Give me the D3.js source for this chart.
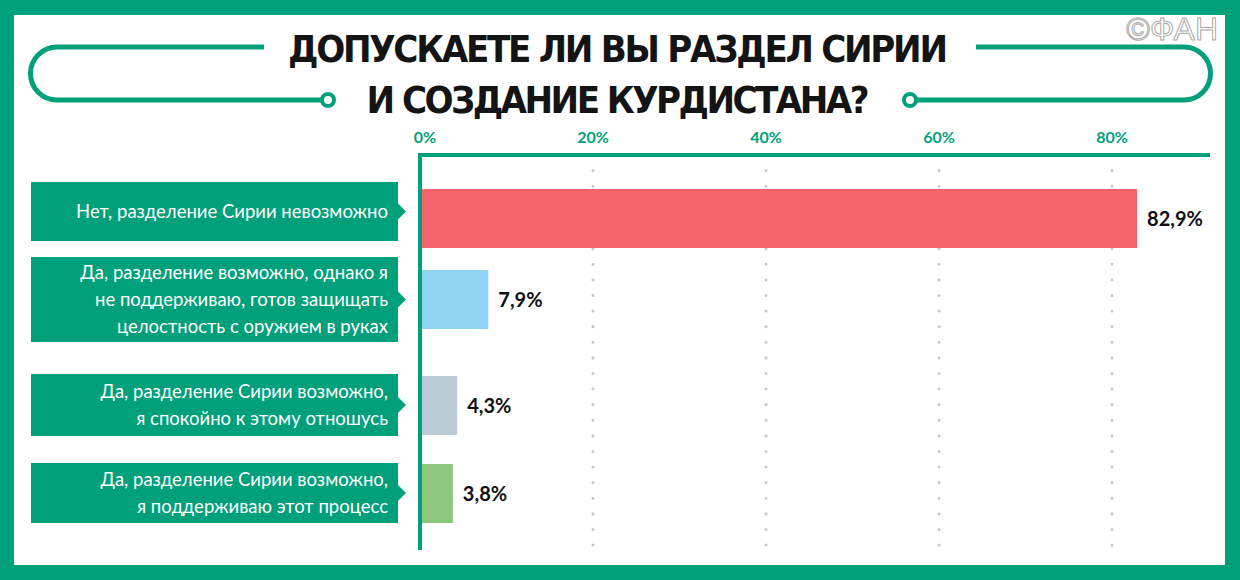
<!DOCTYPE html>
<html><head><meta charset="utf-8">
<script src="https://cdn.jsdelivr.net/npm/d3@7"></script>
<style>body{margin:0;background:#009f7b}</style>
</head><body>
<svg id="vis" width="1240" height="580"></svg>
<script>
var categories = [
    ["Нет, разделение Сирии невозможно"],
    ["Да, разделение возможно, однако я", "не поддерживаю, готов защищать", "целостность с оружием в руках"],
    ["Да, разделение Сирии возможно,", "я спокойно к этому отношусь"],
    ["Да, разделение Сирии возможно,", "я поддерживаю этот процесс"]
];
var values = [82.9, 7.9, 4.3, 3.8];
var valueLabels = ["82,9%", "7,9%", "4,3%", "3,8%"];
var barColors = ["#f5636a", "#90d2f2", "#b9cbd5", "#8dc67c"];
var ticks = [0, 20, 40, 60, 80];
var title = ["ДОПУСКАЕТЕ ЛИ ВЫ РАЗДЕЛ СИРИИ", "И СОЗДАНИЕ КУРДИСТАНА?"];

var green = "#00a07a";
var svg = d3.select("#vis");

// frame
svg.append("rect").attr("x", 0).attr("y", 0).attr("width", 1240).attr("height", 580).attr("fill", green);
svg.append("rect").attr("x", 14).attr("y", 15).attr("width", 1211).attr("height", 550).attr("fill", "#fff");

// title decorations
svg.append("path").attr("d", "M264,47 H57 A26.5,26.5 0 0 0 57,100 H321")
    .attr("fill", "none").attr("stroke", green).attr("stroke-width", 5);
svg.append("circle").attr("cx", 328).attr("cy", 100).attr("r", 6)
    .attr("fill", "#fff").attr("stroke", green).attr("stroke-width", 4);
svg.append("path").attr("d", "M976,47 H1184 A26.5,26.5 0 0 1 1184,100 H917")
    .attr("fill", "none").attr("stroke", green).attr("stroke-width", 5);
svg.append("circle").attr("cx", 910).attr("cy", 100).attr("r", 6)
    .attr("fill", "#fff").attr("stroke", green).attr("stroke-width", 4);

svg.selectAll(".title").data(title).enter().append("text")
    .attr("x", 618).attr("y", function(d, i){ return 62 + i * 51; })
    .attr("text-anchor", "middle")
    .attr("font-family", "DejaVu Sans Condensed, DejaVu Sans").attr("font-weight", "bold")
    .attr("font-size", 38).attr("fill", "#141414")
    .attr("textLength", function(d, i){ return i == 0 ? 660 : 503; })
    .text(function(d){ return d; });

svg.append("text").attr("x", 1218).attr("y", 40).attr("text-anchor", "end")
    .attr("font-family", "Liberation Sans").attr("font-size", 32)
    .attr("fill", "#fff").attr("stroke", "#aaa").attr("stroke-width", 1)
    .text("©ФАН");

// scales
let xScale = d3.scaleLinear().domain([0, 80]).range([420, 1112]);
let rowTop = [189, 270, 376, 464];
let barH = 59;
let boxes = [[182, 241], [257, 342], [374, 436], [463, 523]];

// grid
svg.selectAll(".grid").data(ticks.slice(1)).enter().append("line")
    .attr("x1", function(d){ return xScale(d); }).attr("x2", function(d){ return xScale(d); })
    .attr("y1", 155).attr("y2", 550)
    .attr("stroke", "#c8c8c8").attr("stroke-width", 3)
    .attr("stroke-linecap", "round").attr("stroke-dasharray", "0.1,15.5");

svg.selectAll(".tick").data(ticks).enter().append("text")
    .attr("x", function(d){ return xScale(d) + (d == 0 ? 5 : 0); }).attr("y", 143)
    .attr("text-anchor", "middle").attr("font-family", "Lato").attr("font-weight", "bold")
    .attr("font-size", 16).attr("fill", green)
    .text(function(d){ return d + "%"; });

// bars
svg.selectAll(".bar").data(values).enter().append("rect")
    .attr("x", xScale(0)).attr("y", function(d, i){ return rowTop[i]; })
    .attr("width", function(d){ return xScale(d) - xScale(0); }).attr("height", barH)
    .attr("fill", function(d, i){ return barColors[i]; });

svg.selectAll(".val").data(values).enter().append("text")
    .attr("x", function(d){ return xScale(d) + 10; })
    .attr("y", function(d, i){ return rowTop[i] + barH / 2 + 7; })
    .attr("font-family", "Lato").attr("font-weight", "bold").attr("font-size", 20).attr("fill", "#111")
    .text(function(d, i){ return valueLabels[i]; });

// axis lines
svg.append("line").attr("x1", 418).attr("x2", 1210).attr("y1", 155).attr("y2", 155)
    .attr("stroke", green).attr("stroke-width", 4);
svg.append("line").attr("x1", 420).attr("x2", 420).attr("y1", 153).attr("y2", 550)
    .attr("stroke", green).attr("stroke-width", 4);

// category boxes
categories.forEach(function(lines, i){
    let b = boxes[i], mid = (b[0] + b[1]) / 2;
    svg.append("path")
        .attr("d", "M31," + b[0] + " H398 V" + (mid - 8) + " L406," + mid + " L398," + (mid + 8) + " V" + b[1] + " H31 Z")
        .attr("fill", green);
    let n = lines.length;
    lines.forEach(function(t, j){
        svg.append("text")
            .attr("x", 388).attr("y", mid + (j - (n - 1) / 2) * 27 + 6)
            .attr("text-anchor", "end").attr("font-family", "Lato").attr("font-size", 18.5).attr("fill", "#fff")
            .text(t);
    });
});
</script>
</body></html>
